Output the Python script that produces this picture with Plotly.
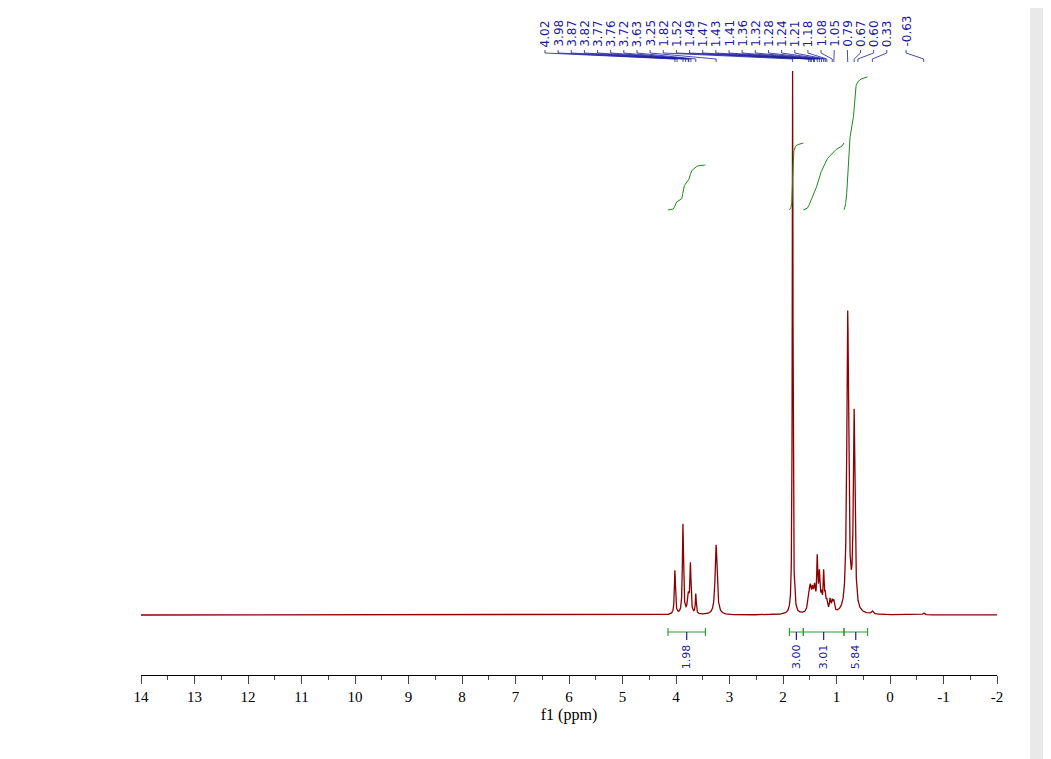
import numpy as np
import plotly.graph_objects as go

# peak list: position (ppm), height (arb.), half-width (ppm)
peak_ppm = [4.02, 3.87, 3.77, 3.73, 3.63, 3.25, 1.82, 1.78, 1.52, 1.49, 1.45, 1.41, 1.36, 1.32,
            1.28, 1.24, 1.21, 1.18, 1.12, 1.08, 1.05, 0.79, 0.67, 0.33, -0.63]
peak_h = [44, 90, 18, 48, 20, 70, 545, 8, 16, 20, 18, 22, 50, 36, 14, 38, 14, 10, 12, 10, 10,
          300, 198, 3, 2]
peak_w = [0.012, 0.012, 0.02, 0.012, 0.01, 0.022, 0.008, 0.01, 0.02, 0.02, 0.02, 0.02, 0.012,
          0.015, 0.015, 0.012, 0.012, 0.015, 0.015, 0.015, 0.015, 0.02, 0.018, 0.02, 0.02]

# picked-peak labels
label_ppm = [4.02, 3.98, 3.87, 3.82, 3.77, 3.76, 3.72, 3.63, 3.25, 1.82, 1.52, 1.49, 1.47, 1.43,
             1.41, 1.36, 1.32, 1.28, 1.24, 1.21, 1.18, 1.08, 1.05, 0.79, 0.67, 0.60, 0.33, -0.63]

# integrations: start, end (ppm), value
int_start = [4.15, 1.88, 1.62, 0.86]
int_end = [3.45, 1.62, 0.86, 0.42]
int_value = ["1.98", "3.00", "3.01", "5.84"]
int_rise = [45, 67, 67, 133]

tick_vals = list(range(14, -3, -1))
tick_text = [str(v) if v >= 0 else "-" + str(-v) for v in tick_vals]

x = np.linspace(14, -2, 8000)
y = np.zeros_like(x)
for p, h, w in zip(peak_ppm, peak_h, peak_w):
    y += h * w**2 / ((x - p)**2 + w**2)

fig = go.Figure()
fig.add_trace(go.Scatter(x=x, y=y, mode="lines", line=dict(color="#8b0000", width=1.3),
                         hoverinfo="skip"))

green = "#2ca02c"
navy = "#1c1c9c"
for a, b, v, rise in zip(int_start, int_end, int_value, int_rise):
    m = (x <= a) & (x >= b)
    cum = np.cumsum(y[m])
    cum = 405 + rise * cum / cum[-1]
    fig.add_trace(go.Scatter(x=x[m], y=cum, mode="lines", line=dict(color="#1a8a1a", width=1),
                             hoverinfo="skip"))
    fig.add_trace(go.Scatter(x=[a, a, a, b, b, b], y=[-13, -21, -17, -17, -13, -21],
                             mode="lines", line=dict(color=green, width=1.2), hoverinfo="skip"))
    c = (a + b) / 2
    fig.add_trace(go.Scatter(x=[c, c], y=[-17, -25], mode="lines",
                             line=dict(color=navy, width=1.2), hoverinfo="skip"))
    fig.add_annotation(x=c, y=-27, text=v, textangle=-90, showarrow=False, yanchor="top",
                       font=dict(family="DejaVu Sans", size=11, color=navy))

# peak label fan at the top
n = len(label_ppm)
lx = [6.45 - i * (6.45 - 0.06) / (n - 2) for i in range(n - 1)] + [-0.3]
for px_, lp in zip(lx, label_ppm):
    fig.add_trace(go.Scatter(x=[px_, px_, lp, lp], y=[565, 562, 556, 553], mode="lines",
                             line=dict(color=navy, width=0.8), hoverinfo="skip"))
    fig.add_annotation(x=px_, y=566, text=f"{lp:.2f}", textangle=-90, showarrow=False,
                       yanchor="bottom", font=dict(family="DejaVu Sans", size=12, color=navy))

fig.add_shape(type="rect", xref="paper", yref="paper", x0=1.0386, x1=1.08, y0=-0.3, y1=1.05,
              fillcolor="#e9e9e9", line=dict(width=0))

fig.update_layout(
    width=1051, height=759, margin=dict(l=133, r=62, t=12, b=92),
    plot_bgcolor="white", paper_bgcolor="white", showlegend=False,
    xaxis=dict(range=[14, -2], tickmode="array", tickvals=tick_vals, ticktext=tick_text,
               showgrid=False, zeroline=False, showline=True, linecolor="black",
               ticks="outside", ticklen=8,
               minor=dict(ticks="outside", ticklen=4, dtick=0.5, tick0=0),
               tickfont=dict(family="Liberation Serif", size=15, color="black"),
               title=dict(text="f1 (ppm)", standoff=4,
                          font=dict(family="Liberation Serif", size=16, color="black"))),
    yaxis=dict(range=[-60, 595], visible=False),
)
fig.write_html("out.html")
